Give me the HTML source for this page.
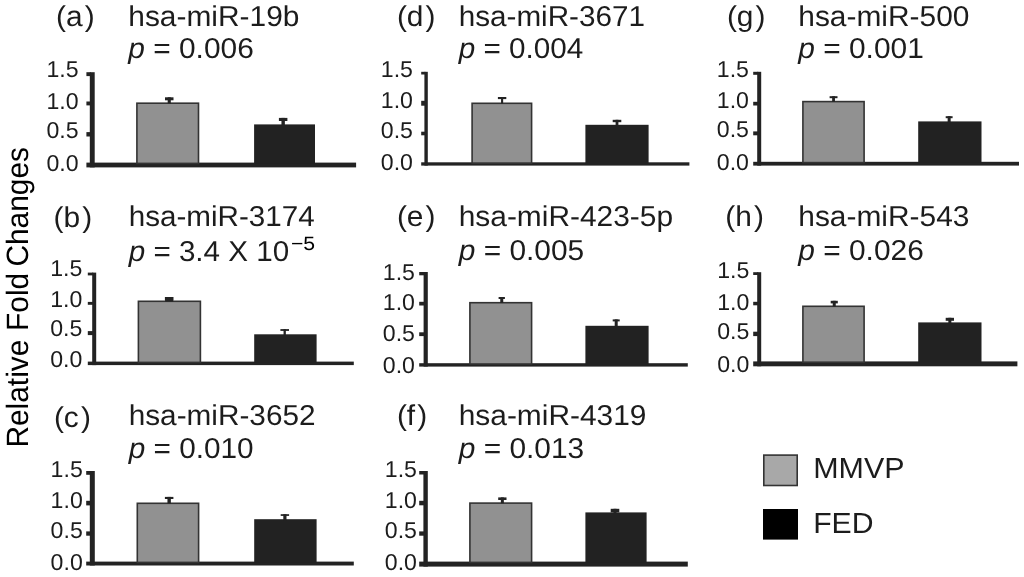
<!DOCTYPE html>
<html><head><meta charset="utf-8"><title>Relative Fold Changes</title>
<style>
html,body{margin:0;padding:0;background:#fff;}
body{width:1024px;height:577px;overflow:hidden;font-family:"Liberation Sans",sans-serif;}
svg{display:block;}
text{font-family:"Liberation Sans",sans-serif;fill:#1c1c1c;text-rendering:geometricPrecision;}
.tk{font-size:23px;}
.tt{font-size:28.8px;}
.it{font-style:italic;}
.yl{font-size:29.9px;fill:#000;}
.lg{font-size:29px;}
.sup{font-size:19.3px;fill:#000;}
</style></head>
<body>
<svg width="1024" height="577" viewBox="0 0 1024 577">
<rect x="0" y="0" width="1024" height="577" fill="#ffffff"/>
<text class="yl" transform="translate(27.6,447.6) scale(1.03,1) rotate(-90)"><tspan x="0">Relative </tspan><tspan x="116.6">Fold </tspan><tspan x="181.0">Changes</tspan></text>
<rect x="89.8" y="72.2" width="4.9" height="95.2" fill="#232323"/>
<rect x="86.4" y="162.6" width="269.7" height="4.8" fill="#232323"/>
<rect x="86.4" y="72.2" width="4.4" height="3.9" fill="#232323"/>
<rect x="86.4" y="101.5" width="4.4" height="3.9" fill="#232323"/>
<rect x="86.4" y="132.1" width="4.4" height="4.4" fill="#232323"/>
<rect x="136.9" y="103.2" width="61.6" height="60.2" fill="#919191" stroke="#333333" stroke-width="1.6"/>
<rect x="254.1" y="124.4" width="60.9" height="39.2" fill="#222222"/>
<rect x="165" y="97.3" width="8.5" height="3" fill="#232323"/>
<rect x="167.7" y="97.3" width="3.1" height="6.1" fill="#232323"/>
<rect x="278.9" y="117.9" width="8.5" height="3.1" fill="#232323"/>
<rect x="281.45" y="117.9" width="3.4" height="7.5" fill="#232323"/>
<text class="tk" transform="translate(46.5,76.6) scale(1.005,1)">1.5</text>
<text class="tk" transform="translate(46.5,108.8) scale(1.005,1)">1.0</text>
<text class="tk" transform="translate(46.5,138.3) scale(1.005,1)">0.5</text>
<text class="tk" transform="translate(46.5,170.7) scale(1.005,1)">0.0</text>
<text class="tt" transform="translate(56,25.6) scale(1.038,1)">(a<tspan dx="2">)</tspan></text>
<text class="tt" transform="translate(128.3,25.6) scale(1.038,1)">hsa-miR-19b</text>
<text class="tt" transform="translate(128.3,58) scale(1.038,1)"><tspan class="it">p</tspan> = 0.006</text>
<rect x="92.2" y="272.6" width="4" height="92.5" fill="#232323"/>
<rect x="87.8" y="361.6" width="266" height="3.5" fill="#232323"/>
<rect x="87.8" y="272.6" width="5.4" height="2.8" fill="#232323"/>
<rect x="87.8" y="301.9" width="5.4" height="2.9" fill="#232323"/>
<rect x="87.8" y="331.1" width="5.4" height="4" fill="#232323"/>
<rect x="138.4" y="301.3" width="62" height="61.1" fill="#919191" stroke="#333333" stroke-width="1.6"/>
<rect x="254.2" y="334.3" width="62.4" height="28.3" fill="#222222"/>
<rect x="164.9" y="297" width="8.5" height="3.6" fill="#232323"/>
<rect x="165.15" y="297" width="8" height="4.5" fill="#232323"/>
<rect x="280.4" y="329.1" width="8.6" height="1.8" fill="#232323"/>
<rect x="283.55" y="329.1" width="2.3" height="6.2" fill="#232323"/>
<text class="tk" transform="translate(50.2,276.4) scale(1.005,1)">1.5</text>
<text class="tk" transform="translate(50.2,306.8) scale(1.005,1)">1.0</text>
<text class="tk" transform="translate(50.2,335.7) scale(1.005,1)">0.5</text>
<text class="tk" transform="translate(50.2,366.6) scale(1.005,1)">0.0</text>
<text class="tt" transform="translate(53.5,226.5) scale(1.038,1)">(b<tspan dx="2">)</tspan></text>
<text class="tt" transform="translate(128.7,225.5) scale(1.028,1)">hsa-miR-3174</text>
<text class="tt" transform="translate(128.7,261.2) scale(1.028,1)"><tspan class="it">p</tspan> = 3.4 X 10</text>
<rect x="89.8" y="471" width="5" height="94.5" fill="#232323"/>
<rect x="86.2" y="561.6" width="267.6" height="3.9" fill="#232323"/>
<rect x="86.2" y="471" width="4.6" height="3.8" fill="#232323"/>
<rect x="86.2" y="500.8" width="4.6" height="4.6" fill="#232323"/>
<rect x="86.2" y="531.4" width="4.6" height="4.3" fill="#232323"/>
<rect x="137.3" y="503.3" width="61.3" height="59.1" fill="#919191" stroke="#333333" stroke-width="1.6"/>
<rect x="254.2" y="519.2" width="62.4" height="43.4" fill="#222222"/>
<rect x="164.9" y="496.9" width="8.5" height="2.1" fill="#232323"/>
<rect x="167.45" y="496.9" width="3.4" height="6.6" fill="#232323"/>
<rect x="280.7" y="514.2" width="8.4" height="1.7" fill="#232323"/>
<rect x="283.3" y="514.2" width="3.2" height="6" fill="#232323"/>
<text class="tk" transform="translate(50.6,477.4) scale(1.005,1)">1.5</text>
<text class="tk" transform="translate(50.6,508.4) scale(1.005,1)">1.0</text>
<text class="tk" transform="translate(50.6,537.7) scale(1.005,1)">0.5</text>
<text class="tk" transform="translate(50.6,569.6) scale(1.005,1)">0.0</text>
<text class="tt" transform="translate(53.9,427.2) scale(1.038,1)">(c<tspan dx="2">)</tspan></text>
<text class="tt" transform="translate(128.7,425.4) scale(1.033,1)">hsa-miR-3652</text>
<text class="tt" transform="translate(128.7,457.5) scale(1.033,1)"><tspan class="it">p</tspan> = 0.010</text>
<rect x="424.4" y="71.8" width="3.4" height="93.8" fill="#232323"/>
<rect x="421.2" y="162.3" width="268.2" height="3.3" fill="#232323"/>
<rect x="421.2" y="71.8" width="4.2" height="2.7" fill="#232323"/>
<rect x="421.2" y="100.8" width="4.2" height="4.9" fill="#232323"/>
<rect x="421.2" y="131.7" width="4.2" height="3.6" fill="#232323"/>
<rect x="472.1" y="103.3" width="59.5" height="59.8" fill="#919191" stroke="#333333" stroke-width="1.6"/>
<rect x="585.4" y="124.8" width="63.2" height="38.5" fill="#222222"/>
<rect x="497.9" y="97" width="8.4" height="2.1" fill="#232323"/>
<rect x="501.05" y="97" width="2.1" height="6.5" fill="#232323"/>
<rect x="612.7" y="119.8" width="8.6" height="2.4" fill="#232323"/>
<rect x="615.6" y="119.8" width="2.8" height="6" fill="#232323"/>
<text class="tk" transform="translate(380.8,76.7) scale(1.005,1)">1.5</text>
<text class="tk" transform="translate(380.8,108.4) scale(1.005,1)">1.0</text>
<text class="tk" transform="translate(380.8,137.7) scale(1.005,1)">0.5</text>
<text class="tk" transform="translate(380.8,169.6) scale(1.005,1)">0.0</text>
<text class="tt" transform="translate(396.9,25.6) scale(1.038,1)">(d<tspan dx="2">)</tspan></text>
<text class="tt" transform="translate(458.7,25.6) scale(1.03,1)">hsa-miR-3671</text>
<text class="tt" transform="translate(458.7,57.8) scale(1.03,1)"><tspan class="it">p</tspan> = 0.004</text>
<rect x="423.6" y="272" width="4.2" height="94.6" fill="#232323"/>
<rect x="419.2" y="363.2" width="268.6" height="3.4" fill="#232323"/>
<rect x="419.2" y="272" width="5.4" height="3.3" fill="#232323"/>
<rect x="419.2" y="301.8" width="5.4" height="3.7" fill="#232323"/>
<rect x="419.2" y="332.3" width="5.4" height="3.8" fill="#232323"/>
<rect x="469.9" y="302.7" width="61.7" height="61.3" fill="#919191" stroke="#333333" stroke-width="1.6"/>
<rect x="585.4" y="325.8" width="63.2" height="38.4" fill="#222222"/>
<rect x="498.6" y="297" width="6.3" height="2" fill="#232323"/>
<rect x="500.25" y="297" width="3" height="5.9" fill="#232323"/>
<rect x="612.7" y="319.4" width="7" height="2" fill="#232323"/>
<rect x="614.7" y="319.4" width="3" height="7.4" fill="#232323"/>
<text class="tk" transform="translate(382.8,279.8) scale(1.005,1)">1.5</text>
<text class="tk" transform="translate(382.8,310.2) scale(1.005,1)">1.0</text>
<text class="tk" transform="translate(382.8,341.3) scale(1.005,1)">0.5</text>
<text class="tk" transform="translate(382.8,373.2) scale(1.005,1)">0.0</text>
<text class="tt" transform="translate(396.9,225.9) scale(1.038,1)">(e<tspan dx="2">)</tspan></text>
<text class="tt" transform="translate(458.7,225.9) scale(1.038,1)">hsa-miR-423-5p</text>
<text class="tt" transform="translate(458.7,259.9) scale(1.038,1)"><tspan class="it">p</tspan> = 0.005</text>
<rect x="423.4" y="471" width="4.4" height="95.6" fill="#232323"/>
<rect x="419.2" y="561.6" width="268.6" height="5" fill="#232323"/>
<rect x="419.2" y="471" width="5.2" height="3.5" fill="#232323"/>
<rect x="419.2" y="500.8" width="5.2" height="4.5" fill="#232323"/>
<rect x="419.2" y="531.4" width="5.2" height="4.3" fill="#232323"/>
<rect x="469.9" y="503.1" width="61.7" height="59.3" fill="#919191" stroke="#333333" stroke-width="1.6"/>
<rect x="585.4" y="512.4" width="61.2" height="50.2" fill="#222222"/>
<rect x="498.2" y="497.4" width="8.3" height="2.6" fill="#232323"/>
<rect x="500.85" y="497.4" width="3" height="5.9" fill="#232323"/>
<rect x="610.7" y="508.8" width="8.6" height="3.6" fill="#232323"/>
<rect x="613.5" y="508.8" width="3" height="4.6" fill="#232323"/>
<text class="tk" transform="translate(384.8,477.4) scale(1.005,1)">1.5</text>
<text class="tk" transform="translate(384.8,508.4) scale(1.005,1)">1.0</text>
<text class="tk" transform="translate(384.8,537.7) scale(1.005,1)">0.5</text>
<text class="tk" transform="translate(384.8,569.6) scale(1.005,1)">0.0</text>
<text class="tt" transform="translate(396.9,425.4) scale(1.038,1)">(f<tspan dx="2">)</tspan></text>
<text class="tt" transform="translate(458.7,425.4) scale(1.038,1)">hsa-miR-4319</text>
<text class="tt" transform="translate(458.7,457.5) scale(1.038,1)"><tspan class="it">p</tspan> = 0.013</text>
<rect x="757.2" y="71.8" width="4" height="93.8" fill="#232323"/>
<rect x="753.2" y="161.8" width="265.8" height="3.8" fill="#232323"/>
<rect x="753.2" y="71.8" width="5" height="3" fill="#232323"/>
<rect x="753.2" y="101.8" width="5" height="3.7" fill="#232323"/>
<rect x="753.2" y="131.4" width="5" height="3.9" fill="#232323"/>
<rect x="802.9" y="101.6" width="61.2" height="61" fill="#919191" stroke="#333333" stroke-width="1.6"/>
<rect x="918.2" y="121.4" width="63.3" height="41.4" fill="#222222"/>
<rect x="829.6" y="96.2" width="7.9" height="2" fill="#232323"/>
<rect x="832.15" y="96.2" width="2.8" height="5.6" fill="#232323"/>
<rect x="945.7" y="116.2" width="6.9" height="2" fill="#232323"/>
<rect x="947.65" y="116.2" width="3" height="6.2" fill="#232323"/>
<text class="tk" transform="translate(716.8,76.5) scale(1.005,1)">1.5</text>
<text class="tk" transform="translate(716.8,108.4) scale(1.005,1)">1.0</text>
<text class="tk" transform="translate(716.8,137.3) scale(1.005,1)">0.5</text>
<text class="tk" transform="translate(716.8,169.6) scale(1.005,1)">0.0</text>
<text class="tt" transform="translate(726.9,25.6) scale(1.038,1)">(g<tspan dx="2">)</tspan></text>
<text class="tt" transform="translate(798.3,25.6) scale(1.038,1)">hsa-miR-500</text>
<text class="tt" transform="translate(798.3,57.8) scale(1.038,1)"><tspan class="it">p</tspan> = 0.001</text>
<rect x="757.2" y="272.2" width="4" height="94.1" fill="#232323"/>
<rect x="753.2" y="361.4" width="264.2" height="4.9" fill="#232323"/>
<rect x="753.2" y="272.2" width="5" height="2.8" fill="#232323"/>
<rect x="753.2" y="301.8" width="5" height="3.5" fill="#232323"/>
<rect x="753.2" y="331.7" width="5" height="4.4" fill="#232323"/>
<rect x="802.9" y="306.3" width="61.2" height="55.9" fill="#919191" stroke="#333333" stroke-width="1.6"/>
<rect x="918.2" y="322.4" width="63.3" height="40" fill="#222222"/>
<rect x="830.7" y="300.8" width="7.1" height="2.6" fill="#232323"/>
<rect x="832.75" y="300.8" width="3" height="5.7" fill="#232323"/>
<rect x="945.7" y="317.8" width="8.3" height="3" fill="#232323"/>
<rect x="948.35" y="317.8" width="3" height="5.6" fill="#232323"/>
<text class="tk" transform="translate(717.2,277.8) scale(1.005,1)">1.5</text>
<text class="tk" transform="translate(717.2,310.1) scale(1.005,1)">1.0</text>
<text class="tk" transform="translate(717.2,339.3) scale(1.005,1)">0.5</text>
<text class="tk" transform="translate(717.2,371.6) scale(1.005,1)">0.0</text>
<text class="tt" transform="translate(725.3,226.3) scale(1.038,1)">(h<tspan dx="2">)</tspan></text>
<text class="tt" transform="translate(798.3,225.9) scale(1.038,1)">hsa-miR-543</text>
<text class="tt" transform="translate(798.3,259.9) scale(1.038,1)"><tspan class="it">p</tspan> = 0.026</text>
<text class="sup" transform="translate(290.9,250.4) scale(1.1,1)">−5</text>
<rect x="763.8" y="455.1" width="33.4" height="30.4" fill="#a8a8a8" stroke="#333" stroke-width="1.6"/>
<rect x="763" y="509" width="35" height="30.6" fill="#000"/>
<text class="lg" transform="translate(813.2,478) scale(1.05,1)">MMVP</text>
<text class="lg" transform="translate(813.2,532.8) scale(1.04,1)">FED</text>
</svg>
</body></html>
